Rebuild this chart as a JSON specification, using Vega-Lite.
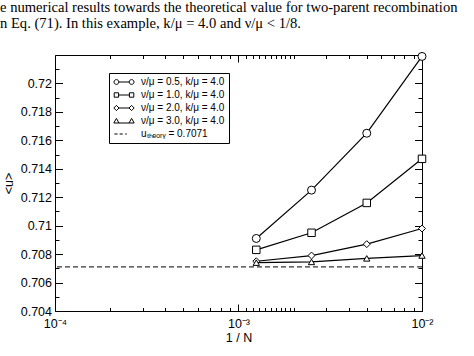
{
  "$schema": "https://vega.github.io/schema/vega-lite/v6.json",
  "width": 367,
  "height": 256,
  "autosize": {"type": "none"},
  "padding": {"left": 55, "top": 55, "right": 52, "bottom": 45},
  "background": "white",
  "title": {
    "text": ["e numerical results towards the theoretical value for two-parent recombination", "n Eq. (71). In this example, k/μ = 4.0 and ν/μ < 1/8."],
    "anchor": "start",
    "frame": "group",
    "dx": -55,
    "font": "Liberation Serif",
    "fontSize": 14.6,
    "fontWeight": "normal",
    "color": "black",
    "lineHeight": 16,
    "offset": 8,
    "baseline": "alphabetic"
  },
  "config": {
    "view": {"stroke": "black", "strokeWidth": 1},
    "axis": {
      "grid": false,
      "domain": false,
      "tickColor": "black",
      "tickWidth": 1,
      "labelColor": "black",
      "labelFont": "Liberation Sans",
      "titleFont": "Liberation Sans",
      "labelFontSize": 12.5,
      "titleFontSize": 12.5,
      "titleFontWeight": "normal",
      "titleColor": "black"
    }
  },
  "datasets": {
    "d": [
      {"series": "ν/μ = 0.5, k/μ = 4.0", "x": 0.00125, "y": 0.7091},
      {"series": "ν/μ = 0.5, k/μ = 4.0", "x": 0.0025, "y": 0.7125},
      {"series": "ν/μ = 0.5, k/μ = 4.0", "x": 0.005, "y": 0.7165},
      {"series": "ν/μ = 0.5, k/μ = 4.0", "x": 0.01, "y": 0.7219},
      {"series": "ν/μ = 1.0, k/μ = 4.0", "x": 0.00125, "y": 0.7083},
      {"series": "ν/μ = 1.0, k/μ = 4.0", "x": 0.0025, "y": 0.7095},
      {"series": "ν/μ = 1.0, k/μ = 4.0", "x": 0.005, "y": 0.7116},
      {"series": "ν/μ = 1.0, k/μ = 4.0", "x": 0.01, "y": 0.7147},
      {"series": "ν/μ = 2.0, k/μ = 4.0", "x": 0.00125, "y": 0.7075},
      {"series": "ν/μ = 2.0, k/μ = 4.0", "x": 0.0025, "y": 0.7079},
      {"series": "ν/μ = 2.0, k/μ = 4.0", "x": 0.005, "y": 0.7087},
      {"series": "ν/μ = 2.0, k/μ = 4.0", "x": 0.01, "y": 0.7098},
      {"series": "ν/μ = 3.0, k/μ = 4.0", "x": 0.00125, "y": 0.7074},
      {"series": "ν/μ = 3.0, k/μ = 4.0", "x": 0.0025, "y": 0.70745},
      {"series": "ν/μ = 3.0, k/μ = 4.0", "x": 0.005, "y": 0.7077},
      {"series": "ν/μ = 3.0, k/μ = 4.0", "x": 0.01, "y": 0.7079}
    ],
    "theory": [{"u": 0.7071}]
  },
  "data": {"name": "d"},
  "resolve": {
    "axis": {"x": "independent", "y": "independent"},
    "scale": {"shape": "independent", "size": "independent"},
    "legend": {"shape": "independent", "size": "independent"}
  },
  "layer": [
    {
      "mark": {"type": "line", "color": "black", "strokeWidth": 1.2},
      "encoding": {
        "x": {
          "field": "x", "type": "quantitative",
          "scale": {"type": "log", "domain": [0.0001, 0.01], "nice": false},
          "axis": {
            "orient": "bottom", "values": [0.0001, 0.001, 0.01],
            "labelExpr": "'10' + (datum.value < 0.0005 ? '⁻⁴' : datum.value < 0.005 ? '⁻³' : '⁻²')",
            "tickSize": -7, "labelPadding": 13, "labelFlush": false,
            "title": "1 / N", "titlePadding": 2
          }
        },
        "y": {
          "field": "y", "type": "quantitative",
          "scale": {"domain": [0.704, 0.722], "nice": false, "zero": false},
          "axis": {
            "orient": "left",
            "values": [0.704, 0.706, 0.708, 0.71, 0.712, 0.714, 0.716, 0.718, 0.72],
            "format": "~g", "tickSize": -7.5, "labelPadding": 11, "labelFlush": false,
            "title": "<u>", "titlePadding": 5
          }
        },
        "detail": {"field": "series"}
      }
    },
    {
      "mark": {"type": "point", "filled": true, "fill": "white", "stroke": "black", "strokeWidth": 1, "opacity": 1},
      "encoding": {
        "x": {
          "field": "x", "type": "quantitative",
          "scale": {"type": "log", "domain": [0.0001, 0.01], "nice": false},
          "axis": {
            "orient": "bottom",
            "values": [0.0002, 0.0003, 0.0004, 0.0005, 0.0006, 0.0007, 0.0008, 0.0009, 0.0011, 0.0012, 0.0013, 0.0014, 0.0015, 0.0016, 0.0017, 0.0018, 0.0019, 0.002, 0.003, 0.004, 0.005, 0.006, 0.007, 0.008, 0.009],
            "labels": false, "tickSize": -3.5, "title": null
          }
        },
        "y": {
          "field": "y", "type": "quantitative",
          "scale": {"domain": [0.704, 0.722], "nice": false, "zero": false},
          "axis": {
            "orient": "left",
            "values": [0.705, 0.707, 0.709, 0.711, 0.713, 0.715, 0.717, 0.719, 0.721],
            "labels": false, "tickSize": -4, "title": null
          }
        },
        "shape": {
          "field": "series", "type": "nominal",
          "scale": {"domain": ["ν/μ = 0.5, k/μ = 4.0", "ν/μ = 1.0, k/μ = 4.0", "ν/μ = 2.0, k/μ = 4.0", "ν/μ = 3.0, k/μ = 4.0"], "range": ["circle", "square", "diamond", "triangle-up"]},
          "legend": null
        },
        "size": {
          "field": "series", "type": "nominal",
          "scale": {"domain": ["ν/μ = 0.5, k/μ = 4.0", "ν/μ = 1.0, k/μ = 4.0", "ν/μ = 2.0, k/μ = 4.0", "ν/μ = 3.0, k/μ = 4.0"], "range": [64, 40, 40, 45]},
          "legend": null
        }
      }
    },
    {
      "mark": {"type": "point", "opacity": 0},
      "encoding": {
        "x": {
          "field": "x", "type": "quantitative",
          "scale": {"type": "log", "domain": [0.0001, 0.01], "nice": false},
          "axis": {"orient": "top", "values": [0.0001, 0.001, 0.01], "labels": false, "tickSize": -7, "title": null}
        },
        "y": {
          "field": "y", "type": "quantitative",
          "scale": {"domain": [0.704, 0.722], "nice": false, "zero": false},
          "axis": {"orient": "right", "values": [0.704, 0.706, 0.708, 0.71, 0.712, 0.714, 0.716, 0.718, 0.72], "labels": false, "tickSize": -7.5, "title": null}
        }
      }
    },
    {
      "mark": {"type": "point", "opacity": 0},
      "encoding": {
        "x": {
          "field": "x", "type": "quantitative",
          "scale": {"type": "log", "domain": [0.0001, 0.01], "nice": false},
          "axis": {
            "orient": "top",
            "values": [0.0002, 0.0003, 0.0004, 0.0005, 0.0006, 0.0007, 0.0008, 0.0009, 0.0011, 0.0012, 0.0013, 0.0014, 0.0015, 0.0016, 0.0017, 0.0018, 0.0019, 0.002, 0.003, 0.004, 0.005, 0.006, 0.007, 0.008, 0.009],
            "labels": false, "tickSize": -3.5, "title": null
          }
        },
        "y": {
          "field": "y", "type": "quantitative",
          "scale": {"domain": [0.704, 0.722], "nice": false, "zero": false},
          "axis": {"orient": "right", "values": [0.705, 0.707, 0.709, 0.711, 0.713, 0.715, 0.717, 0.719, 0.721], "labels": false, "tickSize": -4, "title": null}
        }
      }
    },
    {
      "data": {"name": "theory"},
      "mark": {"type": "rule", "color": "black", "strokeWidth": 1, "strokeDash": [5, 3]},
      "encoding": {
        "y": {"field": "u", "type": "quantitative", "scale": {"domain": [0.704, 0.722], "nice": false, "zero": false}, "axis": null}
      }
    },
    {
      "mark": {"type": "point", "opacity": 0},
      "encoding": {
        "x": {"field": "x", "type": "quantitative", "scale": {"type": "log", "domain": [0.0001, 0.01], "nice": false}, "axis": null},
        "y": {"field": "y", "type": "quantitative", "scale": {"domain": [0.704, 0.722], "nice": false, "zero": false}, "axis": null},
        "shape": {
          "field": "series", "type": "nominal",
          "scale": {
            "domain": ["ν/μ = 0.5, k/μ = 4.0", "ν/μ = 1.0, k/μ = 4.0", "ν/μ = 2.0, k/μ = 4.0", "ν/μ = 3.0, k/μ = 4.0", "uₜₕₑₒᵣᵧ = 0.7071"],
            "range": [
              "M-2.5,0A0.6,0.6 0 1,1 -1.3,0A0.6,0.6 0 1,1 -2.5,0M-1.3,0L1.3,0M1.3,0A0.6,0.6 0 1,1 2.5,0A0.6,0.6 0 1,1 1.3,0",
              "M-2.45,-0.55H-1.35V0.55H-2.45ZM-1.35,0H1.35M1.35,-0.55H2.45V0.55H1.35Z",
              "M-2.55,0L-1.9,-0.65L-1.25,0L-1.9,0.65ZM-1.25,0H1.25M1.25,0L1.9,-0.65L2.55,0L1.9,0.65Z",
              "M-2.55,0.5L-1.9,-0.65L-1.25,0.5ZM-1.25,0.5H1.25M1.25,0.5L1.9,-0.65L2.55,0.5Z",
              "M-2.4,0H-1.6M-1.1,0H-0.3M0.3,0H0.7"
            ]
          },
          "legend": {
            "orient": "none", "legendX": 54, "legendY": 18, "title": null,
            "strokeColor": "black", "fillColor": "white", "padding": 4,
            "labelFont": "Liberation Sans", "labelFontSize": 10, "labelColor": "black",
            "symbolSize": 64, "symbolStrokeColor": "black", "symbolFillColor": "white",
            "symbolStrokeWidth": 1, "symbolOpacity": 1, "symbolOffset": 6, "labelOffset": 12, "rowPadding": 3
          }
        }
      }
    }
  ]
}
